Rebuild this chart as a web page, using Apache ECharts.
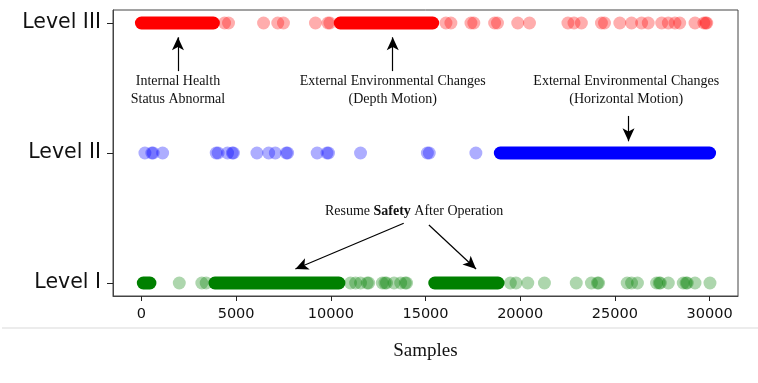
<!DOCTYPE html>
<html><head><meta charset="utf-8">
<script src="https://cdn.jsdelivr.net/npm/echarts@6/dist/echarts.min.js"></script>
<style>html,body{margin:0;padding:0;background:#fff}#c{width:758px;height:383px}</style>
</head><body><div id="c"></div>
<script>
const levelLabels = ['Level I', 'Level II', 'Level III'];
const xTicks = [0, 5000, 10000, 15000, 20000, 25000, 30000];

// Level III (red)
const redPoints = [4390, 4600, 6450, 7200, 7500, 9190, 9850, 9950, 16080, 16340, 17400, 17550, 18650, 18800, 19870, 20490, 22520, 22840, 23230, 24290, 24450, 25260, 25880, 26410, 26760, 27470, 27820, 28170, 28420, 29230, 29700, 29800, 29850];
const redRuns = [[0, 3800], [10500, 15380]];
// Level II (blue)
const bluePoints = [185, 550, 620, 1120, 3950, 4050, 4550, 4860, 4800, 6100, 6720, 7070, 7650, 7720, 9280, 9800, 9880, 11570, 15100, 15200, 17660];
const blueRuns = [[18950, 30000]];
// Level I (green)
const greenPoints = [2000, 3190, 3420, 11040, 11310, 11570, 11920, 12000, 12720, 12860, 12940, 13340, 13690, 13930, 14000, 19480, 19780, 20400, 21280, 22960, 23760, 24080, 24140, 25650, 25880, 26190, 27200, 27340, 27400, 27820, 28610, 28760, 28820, 29230, 30020];
const greenRuns = [[100, 450], [3880, 10430], [15490, 18830]];

const chart = echarts.init(document.getElementById('c'), null, {renderer: 'canvas'});
const series = [];
function addLevel(points, runs, level, rgb) {
  series.push({
    type: 'scatter', data: points.map(v => [v, level]), symbolSize: 13,
    itemStyle: {color: 'rgba(' + rgb + ',0.4)'}, silent: true, z: 2
  });
  runs.forEach(r => series.push({
    type: 'line', data: [[r[0], level], [r[1], level]], symbol: 'none',
    lineStyle: {width: 13, cap: 'round', color: 'rgb(' + rgb + ')'}, silent: true, z: 3
  }));
}
addLevel(greenPoints, greenRuns, 0, '0,128,0');
addLevel(bluePoints, blueRuns, 1, '0,0,255');
addLevel(redPoints, redRuns, 2, '255,0,0');

const arrows = [
  [[1930, 1.63], [1930, 1.89]],
  [[13270, 1.63], [13270, 1.89]],
  [[25720, 1.285], [25720, 1.09]],
  [[13850, 0.46], [8130, 0.108]],
  [[15180, 0.446], [17670, 0.108]]
];
series.push({
  type: 'scatter', data: [], silent: true,
  markLine: {
    silent: true, symbol: ['none', 'arrow'], symbolSize: [9, 13], animation: false,
    lineStyle: {color: '#000', width: 1.2, type: 'solid'}, label: {show: false},
    data: arrows.map(a => [{coord: a[0]}, {coord: a[1]}])
  }
});

chart.setOption({
  animation: false,
  grid: {left: 113, right: 20, top: 10, bottom: 87, show: true, borderColor: '#444', borderWidth: 1},
  xAxis: {
    type: 'value', min: -1500, max: 31500,
    name: 'Samples', nameLocation: 'middle', nameGap: 46,
    nameTextStyle: {fontFamily: 'Liberation Serif', fontSize: 19, color: '#111'},
    axisLine: {show: true, onZero: false, lineStyle: {color: '#444'}},
    axisTick: {show: true, customValues: xTicks, length: 5, lineStyle: {color: '#222'}},
    axisLabel: {customValues: xTicks, formatter: v => String(v), fontFamily: 'DejaVu Sans', fontSize: 14.5, color: '#111', margin: 11},
    splitLine: {show: false}
  },
  yAxis: {
    type: 'value', min: -0.1, max: 2.1,
    axisLine: {show: true, onZero: false, lineStyle: {color: '#444'}},
    axisTick: {show: true, customValues: [0, 1, 2], length: 6, lineStyle: {color: '#222'}},
    axisLabel: {customValues: [0, 1, 2], formatter: v => levelLabels[Math.round(v)], fontFamily: 'DejaVu Sans', fontSize: 20.5, color: '#111', margin: 12},
    splitLine: {show: false}
  },
  series: series
});

function px(x, y) { return chart.convertToPixel({gridIndex: 0}, [x, y]); }
const serif = 'Liberation Serif';
function txt(x, y, s) {
  const p = px(x, y);
  return {type: 'text', x: p[0], y: p[1], style: {text: s, font: '14px "Liberation Serif"', fill: '#111', align: 'center', verticalAlign: 'middle'}};
}
const rp = px(14400, 0.55);
const texts = [
  txt(1930, 1.555, 'Internal Health'),
  txt(1930, 1.41, 'Status Abnormal'),
  txt(13270, 1.555, 'External Environmental Changes'),
  txt(13270, 1.41, '(Depth Motion)'),
  txt(25600, 1.555, 'External Environmental Changes'),
  txt(25600, 1.41, '(Horizontal Motion)'),
  {
    type: 'text', x: rp[0], y: rp[1],
    style: {
      text: '{n|Resume }{b|Safety}{n| After Operation}', align: 'center', verticalAlign: 'middle',
      rich: {n: {fontFamily: serif, fontSize: 14, fill: '#111'}, b: {fontFamily: serif, fontSize: 14, fontWeight: 'bold', fill: '#111'}}
    }
  },
  {type: 'line', shape: {x1: 2, y1: 328, x2: 758, y2: 328}, style: {stroke: '#d9d9d9', lineWidth: 1}, silent: true}
];
chart.setOption({graphic: texts});
</script></body></html>
